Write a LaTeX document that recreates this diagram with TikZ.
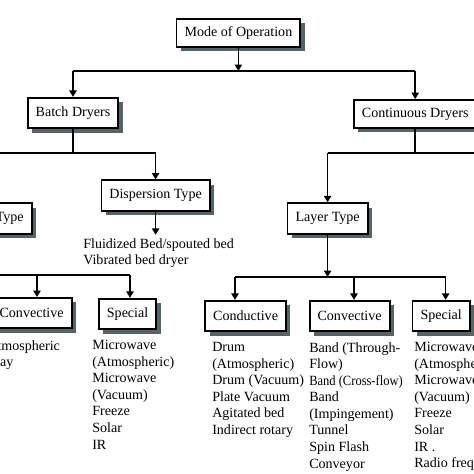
\documentclass[tikz,border=0pt]{standalone}
\usepackage{graphicx}
\usepackage{fontspec}
\setmainfont{Liberation Serif}
\usetikzlibrary{arrows.meta,shadows}
\definecolor{shadowgray}{RGB}{88,100,100}

\begin{document}
\begin{tikzpicture}[
		box/.style={draw, line width=1.3pt, fill=white, minimum height=0.76cm, inner xsep=0.2cm,
			font=\fontsize{10}{12}\selectfont,
			drop shadow={shadow xshift=0.11cm, shadow yshift=-0.11cm, fill=shadowgray, opacity=1}},
		list/.style={anchor=north west, align=left, inner sep=0pt, font=\fontsize{10}{11.8}\selectfont},
		link/.style={line width=1.1pt},
		arrow/.style={link, -{Triangle[length=1.6mm, width=1.8mm]}},
	]
		\useasboundingbox (0,0) rectangle (11.85,-11.85);
		\clip (0,0) rectangle (11.85,-11.85);

		% boxes
		\node[box, minimum height=0.7cm] (mode) at (5.96,-0.825) {Mode of Operation};
		\node[box] (batch) at (1.825,-2.825) {Batch Dryers};
		\node[box, minimum height=0.7cm] (cont) at (10.38,-2.85) {Continuous Dryers};
		\node[box] (disp) at (3.89,-4.89) {Dispersion Type};
		\node[box] (layerL) at (-0.21,-5.46) {Layer Type};
		\node[box] (layer) at (8.19,-5.46) {Layer Type};
		\node[box] (convL) at (0.79,-7.83) {Convective};
		\node[box] (specL) at (3.19,-7.85) {Special};
		\node[box] (cond) at (6.14,-7.9) {Conductive};
		\node[box] (conv) at (8.74,-7.9) {Convective};
		\node[box] (specR) at (11.03,-7.9) {Special};

		% lists
		\node[list] (fluid) at (2.075,-5.95) {Fluidized Bed/spouted bed\\Vibrated bed dryer};
		\node[list] (convLlist) at (-0.325,-8.5) {Atmospheric\\Tray};
		\node[list] (specLlist) at (2.3,-8.5) {Microwave\\(Atmospheric)\\Microwave\\(Vacuum)\\Freeze\\Solar\\IR};
		\node[list] (condlist) at (5.3,-8.55) {Drum\\(Atmospheric)\\Drum (Vacuum)\\Plate Vacuum\\Agitated bed\\Indirect rotary};
		\node[list] (convlist) at (7.725,-8.55) {Band (Through-\\Flow)\\\scalebox{0.89}[1]{Band (Cross-flow)}\\Band\\(Impingement)\\Tunnel\\Spin Flash\\Conveyor};
		\node[list] (specRlist) at (10.35,-8.55) {Microwave\\(Atmospheric)\\Microwave\\(Vacuum)\\Freeze\\Solar\\IR .\\Radio frequency};

		% mode of operation
		\coordinate (top) at (mode.south |- 0,-1.775);
		\draw[arrow] (mode.south) -- (top);
		\draw[link] (batch.north |- top) -- (cont.north |- top);
		\draw[arrow] (batch.north |- top) -- (batch.north);
		\draw[arrow] (cont.north |- top) -- (cont.north);

		% batch dryers
		\coordinate (batchfork) at (batch.south |- 0,-3.825);
		\draw[link] (batch.south) -- (batchfork);
		\draw[link] (layerL.north |- batchfork) -- (disp.north |- batchfork);
		\draw[arrow] (layerL.north |- batchfork) -- (layerL.north);
		\draw[arrow] (disp.north |- batchfork) -- (disp.north);
		\draw[arrow, shorten >=0.08cm] (disp.south) -- (disp.south |- fluid.north);

		% continuous dryers
		\coordinate (contfork) at (cont.south |- 0,-3.825);
		\coordinate (contend) at (12.2,-3.825);
		\draw[link] (cont.south) -- (contfork);
		\draw[link] (layer.north |- contfork) -- (contend);
		\draw[arrow] (layer.north |- contfork) -- (layer.north);

		% layer type, batch side
		\coordinate (leftfork) at (layerL.south |- 0,-6.875);
		\coordinate (leftend) at (-1.5,-6.875);
		\coordinate (convLtop) at (0.925,-6.875);
		\coordinate (specLtop) at (3.25,-6.875);
		\draw[arrow] (layerL.south) -- (leftfork);
		\draw[link] (leftend) -- (specLtop);
		\draw[arrow] (convLtop) -- (convLtop |- convL.north);
		\draw[arrow] (specLtop) -- (specLtop |- specL.north);

		% layer type, continuous side
		\coordinate (layerfork) at (layer.south |- 0,-6.925);
		\coordinate (condtop) at (5.875,-6.925);
		\coordinate (convtop) at (8.85,-6.925);
		\coordinate (spectop) at (11.14,-6.925);
		\draw[arrow] (layer.south) -- (layerfork);
		\draw[link] (condtop) -- (spectop);
		\draw[arrow] (condtop) -- (condtop |- cond.north);
		\draw[arrow] (convtop) -- (convtop |- conv.north);
		\draw[arrow] (spectop) -- (spectop |- specR.north);
	\end{tikzpicture}
\end{document}
